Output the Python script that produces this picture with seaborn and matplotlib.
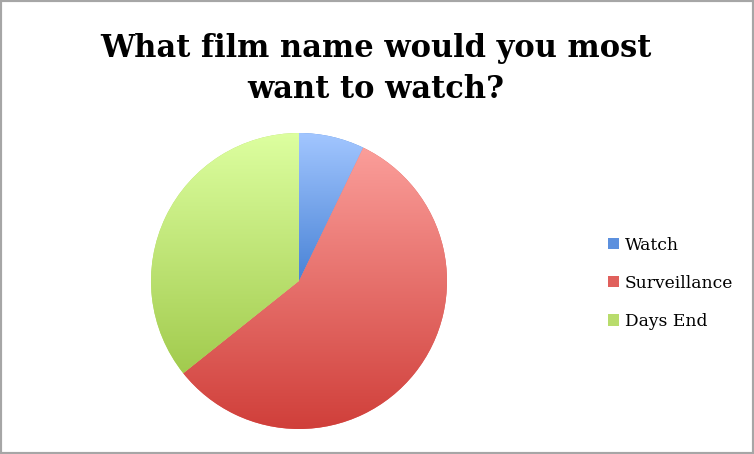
import numpy as np
import matplotlib
matplotlib.use("Agg")
import matplotlib.pyplot as plt
import matplotlib.colors as mcolors
from matplotlib.patches import Rectangle
import seaborn as sns

labels = ["Watch", "Surveillance", "Days End"]
votes = [1, 8, 5]
top_colors = ["#A2C6FF", "#FB9E9A", "#DDFFA0"]
bottom_colors = ["#4983D6", "#D03F3A", "#A2CB4E"]
mid_colors = ["#5C90DE", "#E0605C", "#B8DC6C"]

sns.set_theme(style="white")
plt.rcParams['font.family'] = ['DejaVu Serif']
plt.rcParams['text.color'] = 'black'

fig = plt.figure(figsize=(7.54, 4.54), dpi=100)
W, H = 754, 454
cx, cy, r = 299, 281, 148
ax = fig.add_axes([(cx - r) / W, (H - cy - r) / H, 2 * r / W, 2 * r / H])

wedges, _ = ax.pie(votes, colors=mid_colors, startangle=90, counterclock=False,
                   radius=1, wedgeprops=dict(linewidth=0))
ax.set_xlim(-1, 1)
ax.set_ylim(-1, 1)
ax.set_aspect("equal")
ax.axis("off")

# vertical gradient fill on each slice
for w, c_top, c_bot in zip(wedges, top_colors, bottom_colors):
    verts = w.get_path().vertices
    verts = w.get_patch_transform().transform(verts)
    x0, x1 = verts[:, 0].min(), verts[:, 0].max()
    y0, y1 = verts[:, 1].min(), verts[:, 1].max()
    cmap = mcolors.LinearSegmentedColormap.from_list("g", [c_bot, c_top])
    grad = np.linspace(0, 1, 256).reshape(-1, 1)
    im = ax.imshow(grad, cmap=cmap, extent=[x0, x1, y0, y1], origin="lower",
                   aspect="auto", zorder=2)
    im.set_clip_path(w)

fig.text(0.498, 0.848, "What film name would you most\nwant to watch?",
         ha="center", va="center", fontsize=22, fontweight="bold",
         linespacing=1.38, color="black")

leg = fig.legend(wedges, labels, loc="center left", bbox_to_anchor=(0.786, 0.376),
                 frameon=False, fontsize=12.3, handlelength=0.62, handleheight=0.62,
                 handletextpad=0.35, labelspacing=1.24)
for t in leg.get_texts():
    t.set_color("black")

fig.patches.append(Rectangle((0, 0), 1, 1, transform=fig.transFigure, fill=False,
                             edgecolor="#A6A6A6", linewidth=3))

fig.savefig("out.png", dpi=100)
